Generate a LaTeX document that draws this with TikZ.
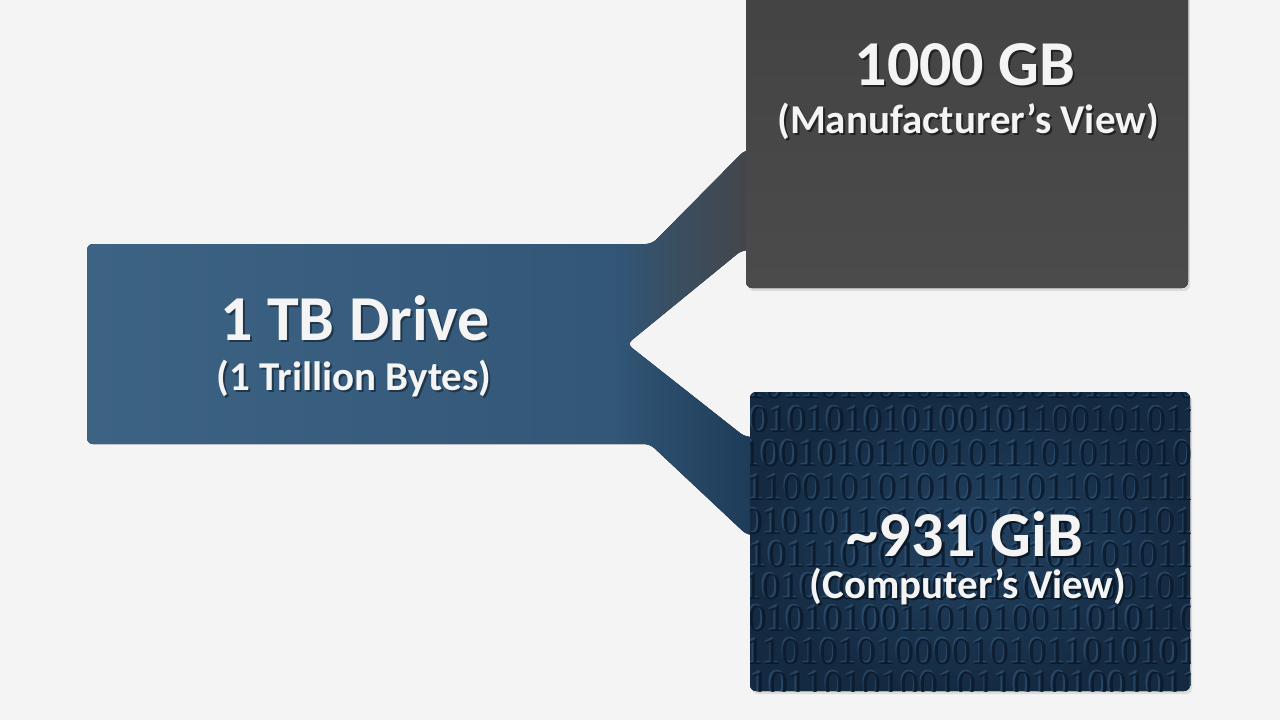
\documentclass[tikz,border=0pt]{standalone}
\usepackage{fontspec}
\setmainfont{Carlito}
\newfontfamily\binfont{Liberation Serif}
\usetikzlibrary{shadows,calc,fadings}
\tikzfading[name=rampin, left color=transparent!100, right color=transparent!0]
\definecolor{bgc}{HTML}{F4F4F4}
\definecolor{blueL}{HTML}{3D6384}
\definecolor{blueR}{HTML}{2F5373}
\definecolor{grayT}{HTML}{434343}
\definecolor{grayB}{HTML}{4B4B4B}
\definecolor{grayc}{HTML}{464646}
\definecolor{navyC}{HTML}{234362}
\definecolor{navyE}{HTML}{142A41}
\definecolor{navyc}{HTML}{1D3A56}
\definecolor{shBlue}{HTML}{1F364B}
\definecolor{shGray}{HTML}{222222}
\definecolor{shNavy}{HTML}{0B1826}
\definecolor{digD}{HTML}{0A182A}
\definecolor{digL}{HTML}{3A6186}
\definecolor{txt}{HTML}{F4F4F4}
\newcommand\shd[2]{\rlap{\kern2pt\raisebox{-2pt}{\textcolor{#1}{#2}}}#2}
\tikzset{
  holder/.style={inner sep=0pt, outer sep=0pt},
  boxshadow/.style={drop shadow={shadow xshift=2pt, shadow yshift=-3pt, opacity=0.2}},
  title/.style={text=txt, font=\bfseries\fontsize{64}{70}\selectfont, inner sep=0pt, anchor=base},
  subtitle/.style={text=txt, font=\bfseries\fontsize{41}{46}\selectfont, inner sep=0pt, anchor=base},
  bits/.style={font=\binfont\fontsize{38}{38}\selectfont, inner sep=0pt, anchor=base west}
}
\begin{document}
\begin{tikzpicture}[x=1pt,y=-1pt]
\useasboundingbox (0,0) rectangle (1280,720);
\fill[bgc] (0,0) rectangle (1280,720);

% named holders for the three boxes
\node[holder, minimum width=540pt, minimum height=200pt] (drive) at (357,344) {};
\node[holder, minimum width=442pt, minimum height=308pt] (maker) at (967,134) {};
\node[holder, minimum width=440pt, minimum height=299pt] (comp) at (970,541.5) {};

% key points of the connectors
\coordinate (p2) at ($(drive.north east)+(25,0)$);
\coordinate (p3) at ($(maker.west)+(-1,16)$);
\coordinate (p4) at ($(maker.west)+(14,16)$);
\coordinate (p5) at ($(maker.west)+(14,116)$);
\coordinate (p6) at ($(maker.west)+(-4,116)$);
\coordinate (q1) at ($(comp.west)+(-5,-104.5)$);
\coordinate (q2) at ($(comp.west)+(14,-104.5)$);
\coordinate (q3) at ($(comp.west)+(14,-6.5)$);
\coordinate (q4) at ($(comp.west)+(-3,-6.5)$);
\coordinate (q5) at ($(drive.south east)+(23,0)$);

% blue shape (drive box + both connectors)
\fill[black, opacity=0.16, rounded corners=6pt, xshift=2pt, yshift=-3pt]
  (drive.north west) -- (p2) -- (p3) -- (p4) -- (p5) -- (p6) -- (drive.east)
  -- (q1) -- (q2) -- (q3) -- (q4) -- (q5) -- (drive.south west) -- cycle;
\fill[left color=blueL, right color=blueR, rounded corners=6pt]
  (drive.north west) -- (p2) -- (p3) -- (p4) -- (p5) -- (p6) -- (drive.east)
  -- (q1) -- (q2) -- (q3) -- (q4) -- (q5) -- (drive.south west) -- cycle;

% colour blends of the connectors
\fill[grayc, path fading=rampin, rounded corners=6pt]
  ($(drive.north east)+(-10,0)$) -- (p2) -- (p3) -- (p4) -- (p5) -- (p6) -- (drive.east) -- ($(drive.east)+(-10,0)$) -- cycle;
\fill[navyc, path fading=rampin, rounded corners=6pt]
  ($(drive.east)+(-10,0)$) -- (drive.east) -- (q1) -- (q2) -- (q3) -- (q4) -- (q5) -- ($(drive.south east)+(-10,0)$) -- cycle;

% right boxes
\fill[boxshadow, top color=grayT, bottom color=grayB, rounded corners=6pt]
  (maker.north west) rectangle (maker.south east);
\fill[boxshadow, inner color=navyC, outer color=navyE, rounded corners=6pt]
  (comp.north west) rectangle (comp.south east);

\begin{scope}
\clip[rounded corners=6pt] (comp.north west) rectangle (comp.south east);
\foreach \row/\yy/\dx in {
  10110100101101001011010010/398/-4,
  01010101010010110010101101/432/0,
  10010101100101110101101011/466/-8,
  11001010101011101101011101/500/-3,
  01010110101101011011010100/534/-6,
  10111010111010110110101101/567/-1,
  10101010110011101010010110/599/-7,
  01010100110101001101011010/631/-2,
  11010101000010101101010110/664/-5,
  10110101001011010100101101/697/0}{
  \node[bits, text=digL, opacity=0.5] (bh\yy) at ($(comp.west |- 0,\yy)+(\dx-1.5,-1.5)$) {\row};
  \node[bits, text=digD, opacity=0.85] (b\yy) at ($(comp.west |- 0,\yy)+(\dx,0)$) {\row};
}
\end{scope}

% texts
\node[title] (t1) at (355,340) {\shd{shBlue}{1 TB Drive}};
\node[subtitle] (s1) at (354,390) {\shd{shBlue}{(1 Trillion Bytes)}};
\node[title] (t2) at (965,85) {\shd{shGray}{1000 GB}};
\node[subtitle] (s2) at (968,133) {\shd{shGray}{(Manufacturer’s View)}};
\node[title] (t3) at (965,556) {\shd{shNavy}{\textasciitilde931 GiB}};
\node[subtitle] (s3) at (968,598) {\shd{shNavy}{(Computer’s View)}};
\end{tikzpicture}
\end{document}
